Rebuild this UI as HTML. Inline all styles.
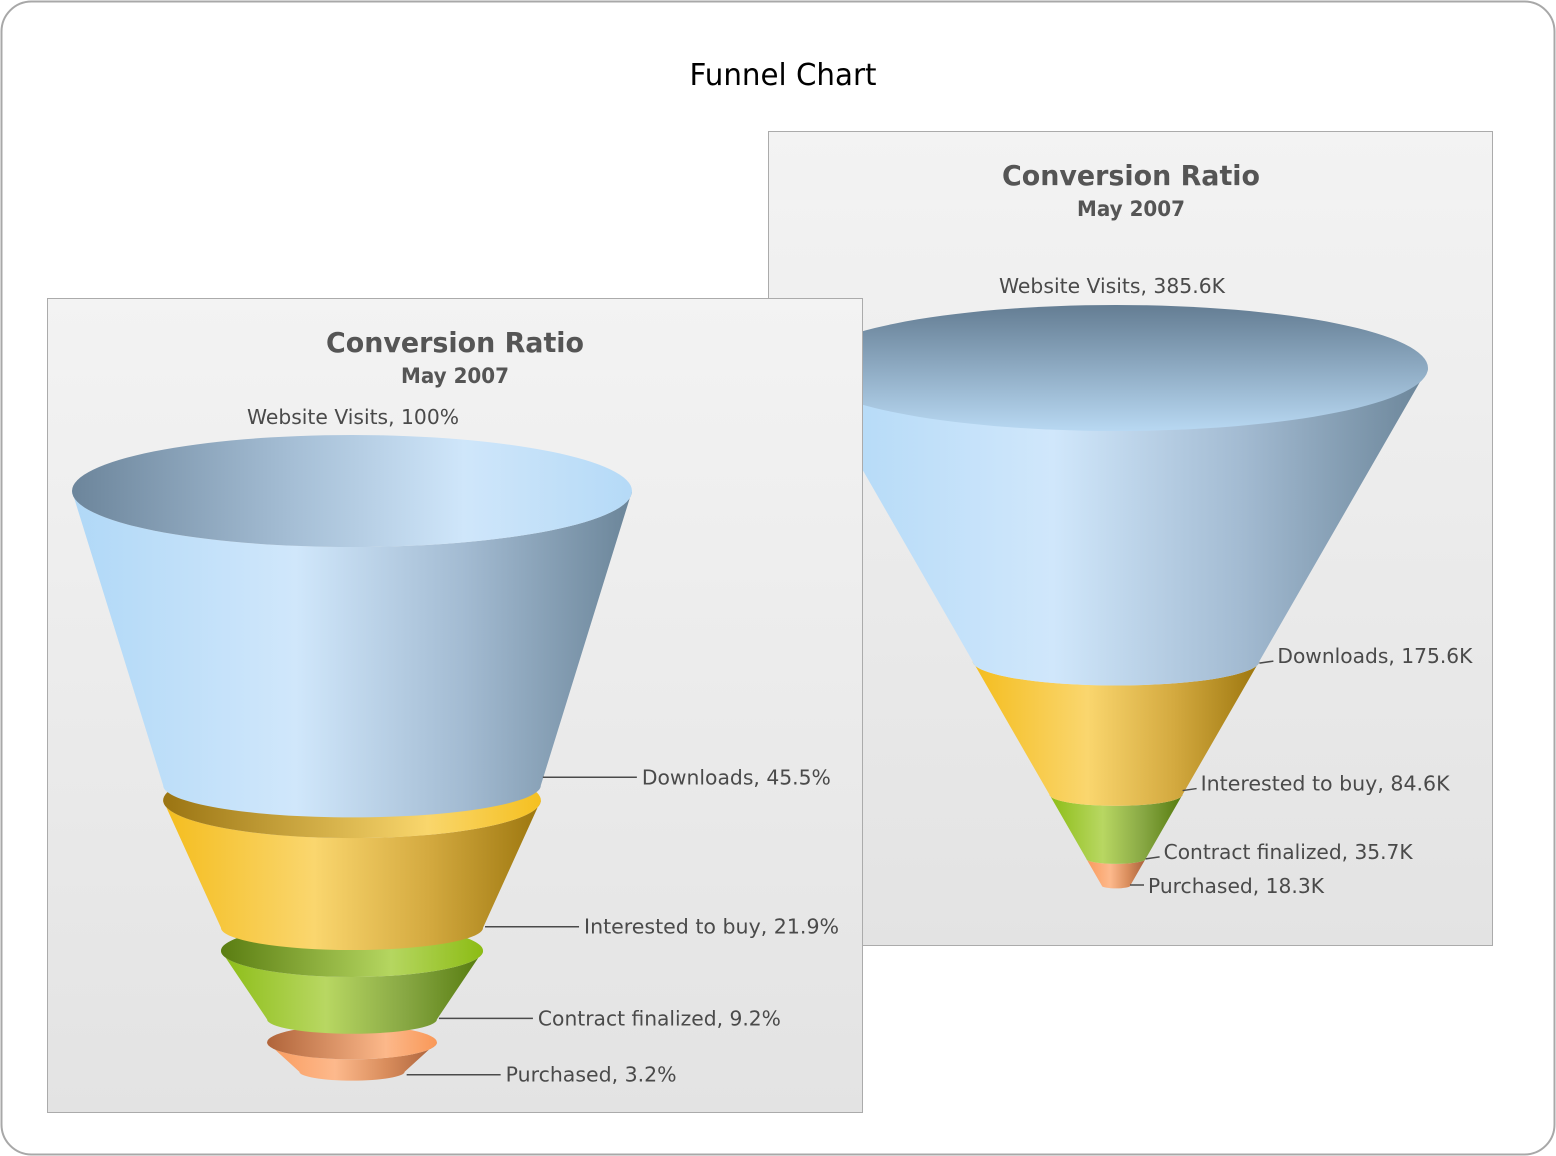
<!DOCTYPE html>
<html><head><meta charset="utf-8"><style>
html,body{margin:0;padding:0;background:#fff;}
svg{display:block;font-family:"DejaVu Sans","Liberation Sans",sans-serif;}
</style></head><body>
<svg id="svg" width="1556" height="1156" viewBox="0 0 1556 1156">
<defs>
<linearGradient id="panelG" x1="0" y1="0" x2="0" y2="1"><stop offset="0" stop-color="#f3f3f3"/><stop offset="1" stop-color="#e3e3e3"/></linearGradient>
<linearGradient id="b0" x1="0" x2="1"><stop offset="0" stop-color="#b0d8f7"/><stop offset="0.4" stop-color="#d0e7fb"/><stop offset="0.7" stop-color="#a3bbd2"/><stop offset="1" stop-color="#6b8599"/></linearGradient>
<linearGradient id="b1" x1="0" x2="1"><stop offset="0" stop-color="#f4bd1e"/><stop offset="0.4" stop-color="#fad66e"/><stop offset="0.7" stop-color="#d4aa40"/><stop offset="1" stop-color="#9c760e"/></linearGradient>
<linearGradient id="b2" x1="0" x2="1"><stop offset="0" stop-color="#8cbd16"/><stop offset="0.4" stop-color="#b8d762"/><stop offset="0.7" stop-color="#88a844"/><stop offset="1" stop-color="#557a0e"/></linearGradient>
<linearGradient id="b3" x1="0" x2="1"><stop offset="0" stop-color="#f99a5c"/><stop offset="0.4" stop-color="#fdb98c"/><stop offset="0.7" stop-color="#d98d5c"/><stop offset="1" stop-color="#a8603a"/></linearGradient>
<linearGradient id="t0" x1="0" x2="1"><stop offset="0" stop-color="#6c859b"/><stop offset="0.4" stop-color="#a6bfd6"/><stop offset="0.7" stop-color="#cfe6fa"/><stop offset="1" stop-color="#b5daf7"/></linearGradient>
<linearGradient id="t1" x1="0" x2="1"><stop offset="0" stop-color="#9a7412"/><stop offset="0.7" stop-color="#f9d66c"/><stop offset="1" stop-color="#f5c020"/></linearGradient>
<linearGradient id="t2" x1="0" x2="1"><stop offset="0" stop-color="#5a7d12"/><stop offset="0.65" stop-color="#b5d660"/><stop offset="1" stop-color="#8cbc14"/></linearGradient>
<linearGradient id="t3" x1="0" x2="1"><stop offset="0" stop-color="#b0643a"/><stop offset="0.7" stop-color="#fcb88a"/><stop offset="1" stop-color="#f99858"/></linearGradient>
<linearGradient id="rtop" x1="0" y1="0" x2="0" y2="1"><stop offset="0" stop-color="#647d93"/><stop offset="1" stop-color="#b8d8f2"/></linearGradient>
<clipPath id="rclip"><rect x="768" y="131" width="725" height="815"/></clipPath>
</defs>
<rect x="1.5" y="1.5" width="1553" height="1153" rx="30" fill="#fff" stroke="#a8a8a8" stroke-width="2"/>
<text x="783" y="85" text-anchor="middle" font-size="30" fill="#000" textLength="187" lengthAdjust="spacingAndGlyphs">Funnel Chart</text>

<g id="rightPanel">
<rect x="768.5" y="131.5" width="724" height="814" fill="url(#panelG)" stroke="#ababab"/>
<text x="1131" y="185" text-anchor="middle" font-size="28" font-weight="bold" fill="#555" textLength="258" lengthAdjust="spacingAndGlyphs">Conversion Ratio</text>
<text x="1131" y="216" text-anchor="middle" font-size="21" font-weight="bold" fill="#555" textLength="108" lengthAdjust="spacingAndGlyphs">May 2007</text>
<g id="rFunnel" clip-path="url(#rclip)"></g>
<g id="rLabels"></g>
</g>

<g id="leftPanel">
<rect x="47.5" y="298.5" width="815" height="814" fill="url(#panelG)" stroke="#ababab"/>
<text x="455" y="352" text-anchor="middle" font-size="28" font-weight="bold" fill="#555" textLength="258" lengthAdjust="spacingAndGlyphs">Conversion Ratio</text>
<text x="455" y="383" text-anchor="middle" font-size="21" font-weight="bold" fill="#555" textLength="108" lengthAdjust="spacingAndGlyphs">May 2007</text>
<g id="lFunnel"></g>
<g id="lLabels"></g>
</g>
</svg>
<script>
const stages = ["Website Visits","Downloads","Interested to buy","Contract finalized","Purchased"];
const absValues = [385.6,175.6,84.6,35.7,18.3];
const absLabels = ["385.6K","175.6K","84.6K","35.7K","18.3K"];
const pctValues = [100,45.5,21.9,9.2,3.2];
const pctLabels = ["100%","45.5%","21.9%","9.2%","3.2%"];

const NS="http://www.w3.org/2000/svg";
function mk(tag,parent,attrs){const e=document.createElementNS(NS,tag);for(const k in attrs)e.setAttribute(k,attrs[k]);parent.appendChild(e);return e;}
const slugs=["website-visits","downloads","interested-to-buy","contract-finalized","purchased"];

// ---------- Left funnel (percent) ----------
(function(){
  const g=document.getElementById('lFunnel'), lg=document.getElementById('lLabels');
  const cx=352, top=491, R=280, k=5.4;
  const gapFor=i=>(i===0?15:23);
  const n=pctValues.length;
  const maxV=Math.max.apply(null,pctValues);
  const rOf=v=>R*Math.sqrt(v/maxV);
  const B=[]; let y=top;
  for(let i=0;i<n-1;i++){
    const rt=rOf(pctValues[i]);
    const isLast=(i===n-2);
    const rb=isLast?rt*0.62:rOf(pctValues[i+1]);
    const h=isLast?k*pctValues[n-1]*1.7:k*(pctValues[i]-pctValues[i+1]);
    B.push({rt,rb,T:y,B:y+h});
    y+=h+gapFor(i);
  }
  for(let j=B.length-1;j>=0;j--){
    const s=B[j];
    const ryt=s.rt*0.2, ryb=s.rb*0.17;
    const d=`M${cx-s.rt},${s.T} L${cx-s.rb},${s.B} A${s.rb},${ryb} 0 0 0 ${cx+s.rb},${s.B} L${cx+s.rt},${s.T} A${s.rt},${ryt} 0 0 1 ${cx-s.rt},${s.T} Z`;
    const body=mk('path',g,{d,fill:`url(#b${j})`});
    
    
    const el=mk('ellipse',g,{cx,cy:s.T,rx:s.rt,ry:ryt,fill:`url(#t${j})`});
    
    
  }
  const t0=mk('text',lg,{x:cx+1,y:424,'text-anchor':'middle','font-size':20,fill:'#4a4a4a',textLength:212,lengthAdjust:'spacingAndGlyphs'});
  t0.textContent=stages[0]+", "+pctLabels[0];
  
  
  const widths=[0,189,255,243,171];
  for(let i=1;i<n;i++){
    const s=B[i-1];
    const ly=s.B-(i===1?8:(i===n-1?-3:1));
    const x0=cx+s.rb+2;
    const ln=mk('line',lg,{x1:x0,y1:ly,x2:x0+94,y2:ly,stroke:'#4a4a4a','stroke-width':1.5});
    
    
    const t=mk('text',lg,{x:x0+99,y:ly+7,'font-size':20,fill:'#4a4a4a',textLength:widths[i],lengthAdjust:'spacingAndGlyphs'});
    t.textContent=stages[i]+", "+pctLabels[i];
    
    
  }
})();

// ---------- Right funnel (absolute) ----------
(function(){
  const g=document.getElementById('rFunnel'), lg=document.getElementById('rLabels');
  const cx=1116, top=368, R=312, H=518, rBot=14;
  const n=absValues.length;
  let sum=0; for(let i=0;i<n-1;i++) sum+=absValues[i];
  const rAt=y=>R-(R-rBot)*(y-top)/H;
  const ys=[top]; let acc=0;
  for(let i=0;i<n-1;i++){acc+=absValues[i]; ys.push(top+H*acc/sum);}
  for(let j=n-2;j>=0;j--){
    const T=ys[j], Bt=ys[j+1], rt=rAt(T), rb=rAt(Bt);
    const ryt=rt*0.17, ryb=rb*0.17;
    const d=`M${cx-rt},${T} L${cx-rb},${Bt} A${rb},${ryb} 0 0 0 ${cx+rb},${Bt} L${cx+rt},${T} A${rt},${ryt} 0 0 1 ${cx-rt},${T} Z`;
    const p=mk('path',g,{d,fill:`url(#b${j})`});
    
    
  }
  const e=mk('ellipse',g,{cx,cy:top,rx:R,ry:63,fill:'url(#rtop)'});
  
  
  const t0=mk('text',lg,{x:1112,y:293,'text-anchor':'middle','font-size':20,fill:'#4a4a4a',textLength:226,lengthAdjust:'spacingAndGlyphs'});
  t0.textContent=stages[0]+", "+absLabels[0];
  
  
  const widths=[0,195,249,249,176];
  const dy=[0,6,0,4,0];
  for(let i=1;i<n;i++){
    const yb=ys[i]-4+(i===n-1?3:0)+dy[i];
    const x0=cx+rAt(ys[i])+2;
    const ln=mk('line',lg,{x1:x0-2,y1:yb,x2:x0+12,y2:yb-(i===n-1?0:2),stroke:'#4a4a4a','stroke-width':1.5});
    
    
    const t=mk('text',lg,{x:x0+16,y:yb+(i===n-1?8:0),'font-size':20,fill:'#4a4a4a',textLength:widths[i],lengthAdjust:'spacingAndGlyphs'});
    t.textContent=stages[i]+", "+absLabels[i];
    
    
  }
})();
</script>
</body></html>
